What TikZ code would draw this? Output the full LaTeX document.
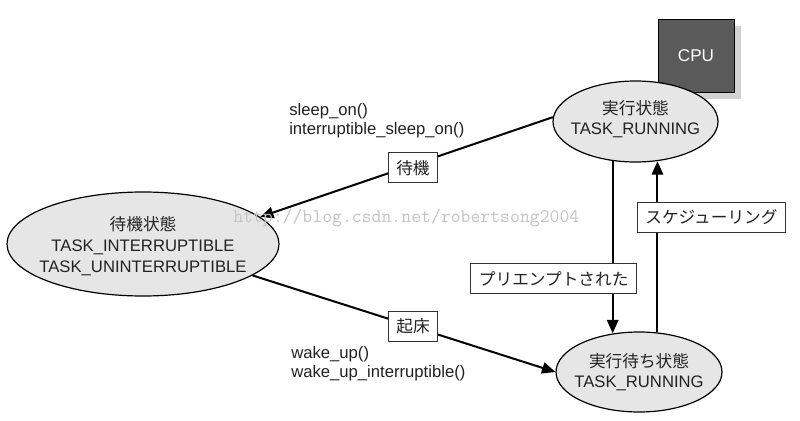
\documentclass[tikz,border=0pt]{standalone}
\usepackage{fontspec}
\setmainfont{Liberation Sans}
\newfontfamily\jp{Noto Sans CJK JP}
\usetikzlibrary{arrows.meta,shadows,shapes.geometric}
\definecolor{ellfill}{HTML}{E6E6E6}
\definecolor{cpufill}{HTML}{5A5A5A}
\definecolor{shadowgray}{HTML}{D2D2D2}
\definecolor{wmgray}{HTML}{C4C4C4}
\definecolor{ink}{HTML}{222222}
\tikzset{
  state/.style={ellipse, draw=black, line width=0.9pt, fill=ellfill, inner sep=0pt},
  stext/.style={align=center, text=ink, font=\fontsize{12.5}{15.5}\selectfont, inner sep=0pt},
  lbl/.style={draw=black!80, line width=0.7pt, fill=white, text=ink, font=\jp\fontsize{12.5}{15}\selectfont, inner xsep=6pt, inner ysep=0pt, minimum height=22.5pt},
  conn/.style={line width=1.5pt, -{Triangle[length=10pt,width=8.5pt]}},
  fn/.style={align=left, anchor=west, text=ink, font=\fontsize{12.5}{14.5}\selectfont, inner sep=0pt},
  cpubox/.style={draw=black, line width=0.7pt, fill=cpufill, text=white, font=\fontsize{12.8}{15}\selectfont, minimum width=57pt, minimum height=54.75pt, inner sep=0pt, drop shadow={shadow xshift=5.25pt, shadow yshift=-5.25pt, fill=shadowgray, opacity=1}},
}
\begin{document}
\begin{tikzpicture}[x=0.75pt, y=-0.75pt]
\fill[white] (0,0) rectangle (800,421);
\useasboundingbox (0,0) rectangle (800,421);
% CPU
\node[cpubox] (cpu) at (696,55.5) {CPU};
% states
\node[state, minimum width=123.75pt, minimum height=60.75pt] (run) at (635.5,121.5) {};
\node[stext] (runT) at (635.5,119) {{\jp 実行状態}\\TASK\_RUNNING};
\node[state, minimum width=204pt, minimum height=78pt] (wait) at (143,244) {};
\node[stext, font=\fontsize{12.5}{15.75}\selectfont] (waitT) at (143,246) {{\jp 待機状態}\\TASK\_INTERRUPTIBLE\\TASK\_UNINTERRUPTIBLE};
\node[state, minimum width=124.5pt, minimum height=60pt] (ready) at (639,372) {};
\node[stext] (readyT) at (639,372) {{\jp 実行待ち状態}\\TASK\_RUNNING};
% connectors
\draw[conn] (run.177) -- (wait.13) node[lbl, pos=0.478, yshift=-2.25pt] (lwait) {待機};
\draw[conn] (wait.-16) -- (ready.west) node[lbl, pos=0.53] (lwake) {起床};
\draw[conn] (run.-120) -- (run.-120 |- ready.123) node[lbl, pos=0.682, xshift=-44.25pt] (lpre) {プリエンプトされた};
\draw[conn] (ready.65) -- (ready.65 |- run.-62) node[lbl, pos=0.671, xshift=40.5pt] (lsched) {スケジューリング};
% function names
\node[fn] (sleep) at (289,120.5) {sleep\_on()\\interruptible\_sleep\_on()};
\node[fn] (wake) at (291,364) {wake\_up()\\wake\_up\_interruptible()};
% watermark
\node[font=\ttfamily\fontsize{14.4}{16}\selectfont, text=wmgray, anchor=west, inner sep=0pt] (wmark) at (233,218) {http://blog.csdn.net/robertsong2004};
\end{tikzpicture}
\end{document}
